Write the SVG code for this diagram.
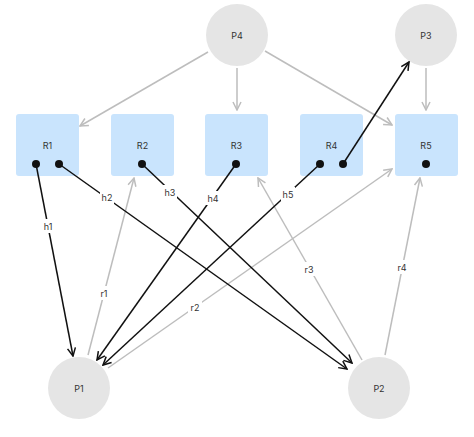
<svg xmlns="http://www.w3.org/2000/svg" width="474" height="437" viewBox="0 0 474 437">
<style>
.box{fill:#c9e4fd;}
.circ{fill:#e5e5e5;}
.lbl{font-family:Inter,"Liberation Sans",sans-serif;font-size:9px;fill:#333;text-anchor:middle;dominant-baseline:central;}
.bg{fill:#fff;}
.blk{stroke:#111;stroke-width:1.5;fill:none;marker-end:url(#ab);}
.gry{stroke:#bdbdbd;stroke-width:1.5;fill:none;marker-end:url(#ag);}
.dot{fill:#111;}
</style>
<defs>
<marker id="ab" viewBox="0 0 10 10" refX="9" refY="5" markerWidth="10" markerHeight="10" markerUnits="userSpaceOnUse" orient="auto">
<path d="M1,1 L9,5 L1,9" fill="none" stroke="#111" stroke-width="1.5"/>
</marker>
<marker id="ag" viewBox="0 0 10 10" refX="9" refY="5" markerWidth="10" markerHeight="10" markerUnits="userSpaceOnUse" orient="auto">
<path d="M1,1 L9,5 L1,9" fill="none" stroke="#bdbdbd" stroke-width="1.5"/>
</marker>
</defs>
<rect width="474" height="437" fill="#fff"/>
<g id="P4"><circle class="circ" cx="237" cy="35" r="31"/><text class="lbl" x="237" y="35">P4</text></g>
<g id="P3"><circle class="circ" cx="426" cy="35" r="31"/><text class="lbl" x="426" y="35">P3</text></g>
<g id="P1"><circle class="circ" cx="79" cy="388" r="31"/><text class="lbl" x="79" y="388">P1</text></g>
<g id="P2"><circle class="circ" cx="379" cy="388" r="31"/><text class="lbl" x="379" y="388">P2</text></g>
<g id="R1"><rect class="box" x="16" y="114" width="63" height="62" rx="3"/><text class="lbl" x="47.5" y="145">R1</text></g>
<g id="R2"><rect class="box" x="111" y="114" width="63" height="62" rx="3"/><text class="lbl" x="142.5" y="145">R2</text></g>
<g id="R3"><rect class="box" x="205" y="114" width="63" height="62" rx="3"/><text class="lbl" x="236.5" y="145">R3</text></g>
<g id="R4"><rect class="box" x="300" y="114" width="63" height="62" rx="3"/><text class="lbl" x="331.5" y="145">R4</text></g>
<g id="R5"><rect class="box" x="395" y="114" width="63" height="62" rx="3"/><text class="lbl" x="426" y="145">R5</text></g>
<g id="connectors">
<line class="gry" x1="208" y1="52" x2="80" y2="126"/>
<line class="gry" x1="237" y1="68" x2="237" y2="110"/>
<line class="gry" x1="265" y1="51" x2="392" y2="125"/>
<line class="gry" x1="426" y1="68" x2="426" y2="110"/>
<line class="gry" x1="88" y1="355" x2="134" y2="178"/>
<line class="gry" x1="108" y1="368" x2="392" y2="169"/>
<line class="gry" x1="362" y1="360" x2="258" y2="178"/>
<line class="gry" x1="385" y1="355" x2="420" y2="178"/>
<line class="blk" x1="36" y1="164" x2="73" y2="356"/>
<line class="blk" x1="59" y1="164" x2="347" y2="369"/>
<line class="blk" x1="142" y1="164" x2="352" y2="363"/>
<line class="blk" x1="236" y1="164" x2="97" y2="360"/>
<line class="blk" x1="320" y1="164" x2="103" y2="365"/>
<line class="blk" x1="343" y1="164" x2="409" y2="62"/>
<rect class="bg" x="41" y="219" width="14" height="14"/><text class="lbl" x="48" y="226">h1</text>
<rect class="bg" x="100" y="190" width="14" height="14"/><text class="lbl" x="107" y="197">h2</text>
<rect class="bg" x="163" y="185" width="14" height="14"/><text class="lbl" x="170" y="192">h3</text>
<rect class="bg" x="206" y="191" width="14" height="14"/><text class="lbl" x="213" y="198">h4</text>
<rect class="bg" x="281" y="187" width="14" height="14"/><text class="lbl" x="288" y="194">h5</text>
<rect class="bg" x="98" y="286" width="12" height="14"/><text class="lbl" x="104" y="293">r1</text>
<rect class="bg" x="188" y="300" width="14" height="14"/><text class="lbl" x="195" y="307">r2</text>
<rect class="bg" x="302" y="262" width="14" height="14"/><text class="lbl" x="309" y="269">r3</text>
<rect class="bg" x="395" y="260" width="14" height="14"/><text class="lbl" x="402" y="267">r4</text>
</g>
<circle class="dot" cx="36" cy="164" r="4"/>
<circle class="dot" cx="59" cy="164" r="4"/>
<circle class="dot" cx="142" cy="164" r="4"/>
<circle class="dot" cx="236" cy="164" r="4"/>
<circle class="dot" cx="320" cy="164" r="4"/>
<circle class="dot" cx="343" cy="164" r="4"/>
<circle class="dot" cx="426" cy="164" r="4"/>
</svg>
